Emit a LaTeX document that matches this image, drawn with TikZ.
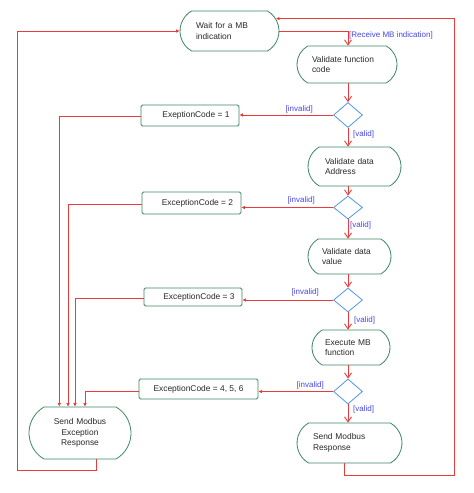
\documentclass[tikz,border=0pt]{standalone}
\usepackage{fontspec}
\setmainfont{Liberation Sans}
\usetikzlibrary{shapes.misc,shapes.geometric,arrows.meta}
\definecolor{lred}{RGB}{232,60,60}
\definecolor{bgreen}{RGB}{60,135,95}
\definecolor{dblue}{RGB}{80,150,230}
\definecolor{lblue}{RGB}{70,70,235}
\definecolor{txt}{RGB}{40,40,40}
\tikzset{
  act/.style={draw=bgreen, line width=0.8pt, rounded rectangle, rounded rectangle arc length=120,
    font=\fontsize{8.4}{10.5}\selectfont, text=txt, inner xsep=0pt, inner ysep=0pt},
  codebox/.style={draw=bgreen, line width=0.8pt, rounded corners=1.5pt, minimum height=21pt,
    font=\fontsize{8.4}{10}\selectfont, text=txt, inner sep=0pt},
  choice/.style={draw=dblue, line width=0.8pt, diamond, minimum width=29pt, minimum height=25pt, inner sep=0pt},
  flow/.style={color=lred, line width=0.9pt, -{Straight Barb[length=5pt,width=7pt]}},
  flows/.style={color=lred, line width=0.9pt, -{Latex[length=3.5pt,width=3.5pt]}},
  lbl/.style={text=lblue, font=\fontsize{8}{9}\selectfont, inner sep=0pt}
}
\begin{document}
\begin{tikzpicture}[x=1pt,y=-1pt]
\useasboundingbox (0,0) rectangle (474,493);
% activity nodes
\node[act, minimum width=99pt, minimum height=40pt, text width=67pt, align=left] (wait) at (229.5,31) {Wait for a MB\\indication};
\node[act, minimum width=100pt, minimum height=37pt, text width=70pt, align=left] (vfc) at (347,64.5) {Validate function\\code};
\node[act, minimum width=93pt, minimum height=39pt, text width=59pt, align=left] (vda) at (354.5,166.5) {Validate data\\Address};
\node[act, minimum width=83pt, minimum height=35pt, text width=55pt, align=left] (vdv) at (349.5,256.5) {Validate data\\value};
\node[act, minimum width=78pt, minimum height=35pt, text width=52pt, align=left] (emb) at (351,347.5) {Execute MB\\function};
\node[act, minimum width=105pt, minimum height=40pt, text width=73pt, align=left] (smr) at (349.5,443) {Send Modbus\\Response};
\node[act, minimum width=102pt, minimum height=52pt, text width=70pt, align=center] (sexc) at (80,433) {Send Modbus\\Exception\\Response};
% decisions
\node[choice] (d1) at (348,115) {};
\node[choice, minimum height=23pt] (d2) at (348,207.5) {};
\node[choice, minimum height=24pt] (d3) at (348,300) {};
\node[choice] (d4) at (348,391.5) {};
% exception code boxes
\node[codebox, minimum width=98pt] (ec1) at (190,115.5) {\hspace*{12pt}ExeptionCode = 1};
\node[codebox, minimum width=99pt, minimum height=22pt] (ec2) at (191.5,203) {\hspace*{12pt}ExceptionCode = 2};
\node[codebox, minimum width=98pt, minimum height=18pt] (ec3) at (193,297) {\hspace*{12pt}ExceptionCode = 3};
\node[codebox, minimum width=119pt, minimum height=20pt] (ec4) at (198.5,389) {ExceptionCode = 4, 5, 6};
% helper coordinates
\coordinate (rline) at (454,0);
\coordinate (lline) at (17,0);
% main flow
\draw[flow] (wait.east) -| (vfc.north -| d1.north);
\node[lbl, anchor=west] (lrecv) at (349,35) {[Receive MB indication]};
\draw[flow] (vfc.south -| d1.north) -- (d1.north);
\draw[flow] (d1.south) -- (d1.south |- vda.north);
\draw[flow] (vda.south -| d2.north) -- (d2.north);
\draw[flow] (d2.south) -- (d2.south |- vdv.north);
\draw[flow] (vdv.south -| d3.north) -- (d3.north);
\draw[flow] (d3.south) -- (d3.south |- emb.north);
\draw[flow] (emb.south -| d4.north) -- (d4.north);
\draw[flow] (d4.south) -- (d4.south |- smr.north);
\node[lbl, anchor=west] (v1) at (353,134) {[valid]};
\node[lbl, anchor=west] (v2) at (350,225) {[valid]};
\node[lbl, anchor=west] (v3) at (354,320) {[valid]};
\node[lbl, anchor=west] (v4) at (353,409) {[valid]};
% invalid branches
\draw[flows] (d1.west) -- (d1.west -| ec1.east);
\draw[flows] (d2.west) -- (d2.west -| ec2.east);
\draw[flows] (d3.west) -- (d3.west -| ec3.east);
\draw[flows] (d4.west) -- (d4.west -| ec4.east);
\node[lbl, anchor=east] (i1) at (313,109) {[invalid]};
\node[lbl, anchor=east] (i2) at (315,200) {[invalid]};
\node[lbl, anchor=east] (i3) at (319,292) {[invalid]};
\node[lbl, anchor=east] (i4) at (324,385) {[invalid]};
% exception codes to exception response
\draw[flows] ([yshift=-1.2pt]ec1.west) -| ([xshift=-20.7pt]sexc.north);
\draw[flows] ([yshift=-1.5pt]ec2.west) -| ([xshift=-12pt]sexc.north);
\draw[flows] ([yshift=-1pt]ec3.west) -| ([xshift=-5pt]sexc.north);
\draw[flows] ([yshift=-2pt]ec4.west) -| ([xshift=5pt]sexc.north);
% loops back to wait
\draw[flows] ([xshift=16pt]sexc.south) -- ++(0,11) -| (lline |- wait.west) -- (wait.west);
\draw[flows] ([xshift=-5.5pt]smr.south) -- ++(0,12) -| (rline |- wait.15) -- (wait.15);
\end{tikzpicture}
\end{document}
